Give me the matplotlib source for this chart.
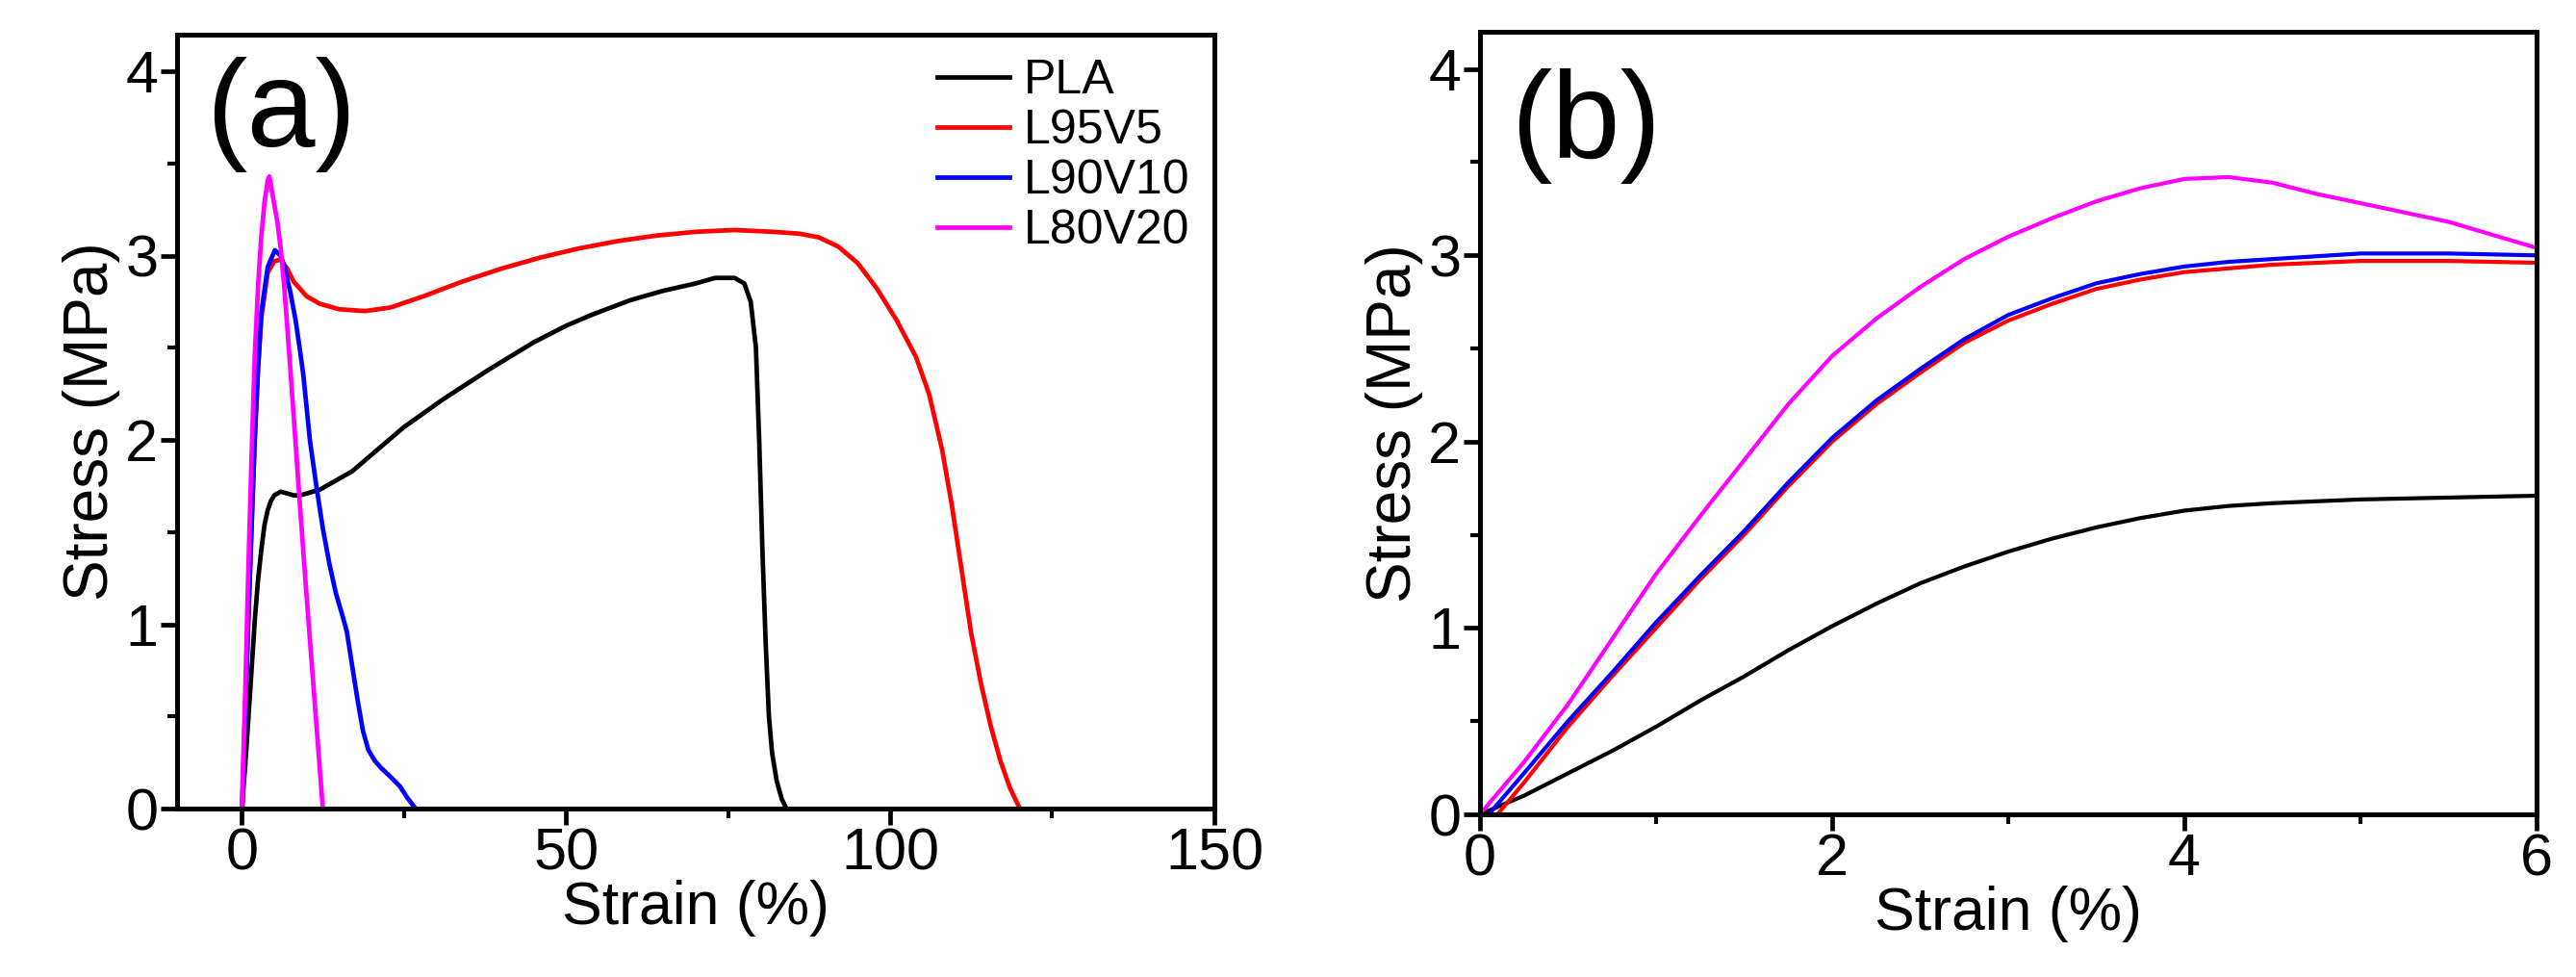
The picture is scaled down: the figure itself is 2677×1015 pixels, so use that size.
import numpy as np
import matplotlib.pyplot as plt
from matplotlib.ticker import MultipleLocator

plt.rcParams["font.family"] = ["Liberation Sans", "DejaVu Sans"]

# panel (a): full curves
pla_a_x = [0, 0.5, 1, 1.5, 2, 2.5, 3, 3.5, 4, 4.5, 5, 6, 7, 8, 9, 10, 12, 14, 17, 20, 25,
           31, 38, 45, 50, 54, 60, 65, 70, 73, 76, 77.5, 78.5, 79.3, 79.8, 80.3, 80.8,
           81.3, 81.8, 82.5, 83.3, 84]
pla_a_y = [0, 0.22, 0.48, 0.75, 1.02, 1.24, 1.40, 1.54, 1.62, 1.67, 1.70, 1.72, 1.71, 1.70,
           1.70, 1.71, 1.73, 1.77, 1.83, 1.92, 2.07, 2.22, 2.38, 2.53, 2.62, 2.68, 2.76,
           2.81, 2.85, 2.88, 2.88, 2.85, 2.75, 2.50, 2.00, 1.40, 0.90, 0.50, 0.30, 0.15,
           0.05, 0]

l95_a_x = [0, 0.1, 0.5, 1, 1.5, 2, 2.5, 3, 4, 5, 6, 7, 8, 10, 12, 15, 19, 23, 28, 34, 40,
           46, 52, 58, 64, 70, 76, 82, 86, 89, 92, 95, 98, 101, 104, 106, 108, 109.5, 111,
           112.5, 114, 115.5, 117, 118.5, 120]
l95_a_y = [0, 0, 0.5, 1.02, 1.52, 2.0, 2.38, 2.66, 2.91, 2.97, 2.98, 2.93, 2.86, 2.78, 2.74,
           2.71, 2.70, 2.72, 2.78, 2.86, 2.93, 2.99, 3.04, 3.08, 3.11, 3.13, 3.14, 3.13,
           3.12, 3.10, 3.05, 2.96, 2.82, 2.65, 2.45, 2.25, 1.95, 1.65, 1.30, 0.95, 0.68,
           0.45, 0.26, 0.11, 0]

l90_a_x = [0, 0.05, 0.5, 1, 1.5, 2, 2.5, 3, 4, 5.1, 6, 6.5, 7.5, 8.3, 9, 9.5, 10.5, 11.5,
           12.5, 13.5, 14.5, 15.5, 16.2, 17, 17.9, 18.7, 19.5, 20.5, 21.5, 23, 24.4, 25.5,
           26.8]
l90_a_y = [0, 0, 0.5, 1.02, 1.52, 2.02, 2.39, 2.69, 2.94, 3.03, 3.0, 2.95, 2.8, 2.65, 2.48,
           2.35, 2.0, 1.75, 1.52, 1.33, 1.17, 1.05, 0.96, 0.78, 0.58, 0.42, 0.32, 0.26,
           0.22, 0.17, 0.12, 0.06, 0]

l80_a_x = [0, 0.5, 1, 1.5, 2, 2.5, 3, 3.5, 4, 4.25, 4.5, 5, 5.5, 6, 6.5, 7, 7.5, 8, 8.5, 9,
           9.5, 10, 10.5, 11, 11.5, 12, 12.5]
l80_a_y = [0, 0.59, 1.29, 1.9, 2.46, 2.83, 3.1, 3.29, 3.41, 3.43, 3.38, 3.28, 3.18, 3.04,
           2.85, 2.62, 2.38, 2.13, 1.88, 1.63, 1.39, 1.15, 0.92, 0.69, 0.46, 0.23, 0]

# panel (b): zoom on the first 6 %
pla_b_x = [0, 0.25, 0.5, 0.75, 1, 1.25, 1.5, 1.75, 2, 2.25, 2.5, 2.75, 3, 3.25, 3.5, 3.75,
           4, 4.25, 4.5, 5, 5.5, 6]
pla_b_y = [0, 0.1, 0.22, 0.34, 0.47, 0.61, 0.74, 0.88, 1.01, 1.13, 1.24, 1.33, 1.41, 1.48,
           1.54, 1.59, 1.63, 1.655, 1.67, 1.69, 1.70, 1.71]

l95_b_x = [0.1, 0.25, 0.5, 0.75, 1, 1.25, 1.5, 1.75, 2, 2.25, 2.5, 2.75, 3, 3.25, 3.5, 3.75,
           4, 4.25, 4.5, 5, 5.5, 6]
l95_b_y = [0, 0.17, 0.47, 0.74, 1.0, 1.26, 1.5, 1.76, 2.0, 2.2, 2.37, 2.53, 2.65, 2.74,
           2.82, 2.87, 2.91, 2.93, 2.95, 2.97, 2.97, 2.96]

l90_b_x = [0.05, 0.25, 0.5, 0.75, 1, 1.25, 1.5, 1.75, 2, 2.25, 2.5, 2.75, 3, 3.25, 3.5, 3.75,
           4, 4.25, 4.5, 5, 5.5, 6]
l90_b_y = [0, 0.22, 0.5, 0.76, 1.03, 1.28, 1.52, 1.78, 2.02, 2.22, 2.39, 2.55, 2.68, 2.77,
           2.85, 2.9, 2.94, 2.965, 2.98, 3.01, 3.01, 3.0]

l80_b_x = [0, 0.25, 0.5, 0.75, 1, 1.25, 1.5, 1.75, 2, 2.25, 2.5, 2.75, 3, 3.25, 3.5, 3.75,
           4, 4.25, 4.5, 4.75, 5, 5.25, 5.5, 5.75, 6]
l80_b_y = [0, 0.28, 0.59, 0.94, 1.29, 1.6, 1.9, 2.2, 2.46, 2.66, 2.83, 2.98, 3.1, 3.2, 3.29,
           3.36, 3.41, 3.42, 3.39, 3.33, 3.28, 3.23, 3.18, 3.11, 3.04]

labels = ["PLA", "L95V5", "L90V10", "L80V20"]
colors = ["black", "#ff0000", "#0000ff", "#ff00ff"]

fig = plt.figure(figsize=(26.77, 10.15), dpi=100)
ax1 = fig.add_axes([0.0687, 0.1724, 0.4027, 0.7921])
ax2 = fig.add_axes([0.5745, 0.1665, 0.4102, 0.8010])

curves_a = [(pla_a_x, pla_a_y), (l95_a_x, l95_a_y), (l90_a_x, l90_a_y), (l80_a_x, l80_a_y)]
curves_b = [(pla_b_x, pla_b_y), (l95_b_x, l95_b_y), (l90_b_x, l90_b_y), (l80_b_x, l80_b_y)]

for (x, y), c, lab in zip(curves_a, colors, labels):
    ax1.plot(x, y, color=c, lw=3.4, label=lab, solid_joinstyle="round")
for (x, y), c in zip(curves_b, colors):
    ax2.plot(x, y, color=c, lw=3.0, solid_joinstyle="round")

ax1.set_xlim(-10, 150)
ax1.xaxis.set_major_locator(MultipleLocator(50))
ax1.xaxis.set_minor_locator(MultipleLocator(25))
ax2.set_xlim(0, 6)
ax2.xaxis.set_major_locator(MultipleLocator(2))
ax2.xaxis.set_minor_locator(MultipleLocator(1))

for ax, tag, ty in [(ax1, "(a)", 0.897), (ax2, "(b)", 0.88)]:
    ax.set_ylim(0, 4.2)
    ax.yaxis.set_major_locator(MultipleLocator(1))
    ax.yaxis.set_minor_locator(MultipleLocator(0.5))
    for s in ax.spines.values():
        s.set_linewidth(3.6)
    ax.tick_params(which="major", direction="out", length=12, width=3.4,
                   labelsize=44, pad=2)
    ax.tick_params(which="minor", direction="out", length=7, width=3.0)
    ax.set_xlabel("Strain (%)", fontsize=45, labelpad=-2)
    ax.set_ylabel("Stress (MPa)", fontsize=46, labelpad=4)
    ax.text(0.10, ty, tag, transform=ax.transAxes, fontsize=92,
            ha="center", va="center")

ax1.legend(loc="upper right", frameon=False, fontsize=36, handlelength=1.5,
           handletextpad=0.3, labelspacing=0.12, borderpad=0.2, borderaxespad=0.3)

fig.savefig("out.png", dpi=100)
